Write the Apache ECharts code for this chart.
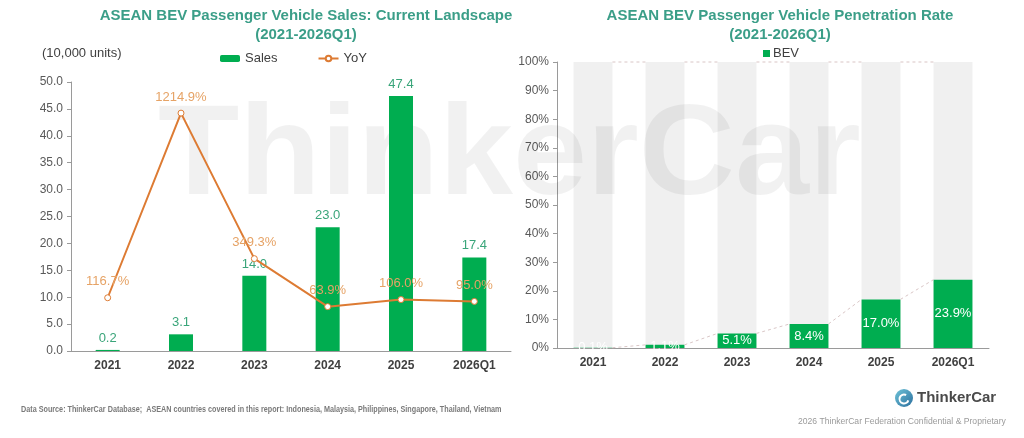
<!DOCTYPE html>
<html lang="en">
<head>
    <meta charset="UTF-8">
    <title>ASEAN BEV Passenger Vehicle</title>
    <script src="https://cdn.jsdelivr.net/npm/echarts@6.0.0/dist/echarts.min.js"></script>
    <style>
        html, body { margin: 0; padding: 0; background: #fff; }
        #chart { width: 1024px; height: 438px; }
    </style>
</head>
<body>
<div id="chart"></div>
<script>
    // chart data
    const categories = ['2021', '2022', '2023', '2024', '2025', '2026Q1'];
    const salesValues = [0.2, 3.1, 14.0, 23.0, 47.4, 17.4];     // 10,000 units
    const yoyValues = [116.7, 1214.9, 349.3, 63.9, 106.0, 95.0]; // %
    const bevShare = [0.1, 1.1, 5.1, 8.4, 17.0, 23.9];           // % penetration

    const FONT = 'Liberation Sans, Arial, sans-serif';
    const GREEN = '#00ad50';
    const ORANGE = '#dd7b33';

    // pairs for the dashed "series lines" between neighbouring bars
    const linkData = bevShare.slice(0, -1).map((v, i) => [i, v, bevShare[i + 1]]);

    const myChart = echarts.init(document.getElementById('chart'));

    const option = {
        animation: false,
        textStyle: { fontFamily: FONT },
        title: [
            {
                text: 'ASEAN BEV Passenger Vehicle Sales: Current Landscape\n(2021-2026Q1)',
                left: 301, top: 1, textAlign: 'center',
                textStyle: { color: '#3b9e88', fontSize: 15, fontWeight: 'bold', lineHeight: 19, fontFamily: FONT }
            },
            {
                text: 'ASEAN BEV Passenger Vehicle Penetration Rate\n(2021-2026Q1)',
                left: 775, top: 1, textAlign: 'center',
                textStyle: { color: '#3b9e88', fontSize: 15, fontWeight: 'bold', lineHeight: 19, fontFamily: FONT }
            }
        ],
        legend: [
            {
                data: ['Sales', 'YoY'],
                left: 215, top: 47,
                itemWidth: 20, itemHeight: 7, itemGap: 40,
                textStyle: { color: '#404040', fontSize: 13, fontFamily: FONT }
            },
            {
                data: [{ name: 'BEV', icon: 'rect' }],
                left: 758, top: 42,
                itemWidth: 7, itemHeight: 7, itemGap: 4,
                textStyle: { color: '#404040', fontSize: 13, fontFamily: FONT, padding: [0, 0, 0, -2] }
            }
        ],
        grid: [
            { left: 71, top: 82, width: 440, height: 269 },
            { left: 557, top: 62, width: 432, height: 286 }
        ],
        xAxis: [
            {
                gridIndex: 0, type: 'category', data: categories,
                axisLine: { lineStyle: { color: '#9a9a9a' } },
                axisTick: { show: false },
                axisLabel: { color: '#404040', fontSize: 12, fontWeight: 'bold', margin: 9 }
            },
            {
                gridIndex: 1, type: 'category', data: categories,
                axisLine: { lineStyle: { color: '#9a9a9a' } },
                axisTick: { show: false },
                axisLabel: { color: '#404040', fontSize: 12, fontWeight: 'bold', margin: 9 }
            }
        ],
        yAxis: [
            {
                gridIndex: 0, type: 'value', min: 0, max: 50, interval: 5,
                axisLine: { show: true, lineStyle: { color: '#9a9a9a' } },
                axisTick: { show: true, length: 4 },
                splitLine: { show: false },
                axisLabel: { color: '#595959', fontSize: 12, formatter: v => v.toFixed(1) }
            },
            {
                gridIndex: 0, type: 'value', min: -200, max: 1400, show: false,
                splitLine: { show: false }
            },
            {
                gridIndex: 1, type: 'value', min: 0, max: 100, interval: 10,
                axisLine: { show: true, lineStyle: { color: '#9a9a9a' } },
                axisTick: { show: true, length: 4 },
                splitLine: { show: false },
                axisLabel: { color: '#595959', fontSize: 12, formatter: '{value}%' }
            }
        ],
        graphic: [
            {
                type: 'text', left: 42, top: 47, z: 5,
                style: { text: '(10,000 units)', fill: '#404040', font: '13px ' + FONT }
            },
            {
                type: 'text', x: 158, y: 159, z: 2, scaleX: 1.04,
                style: {
                    text: 'ThinkerCar', fill: 'rgba(0,0,0,0.055)',
                    font: 'bold 128px ' + FONT, verticalAlign: 'middle'
                }
            },
            {
                type: 'text', x: 21, y: 404, z: 5, scaleX: 0.76,
                style: {
                    text: 'Data Source: ThinkerCar Database;  ASEAN countries covered in this report: Indonesia, Malaysia, Philippines, Singapore, Thailand, Vietnam',
                    fill: '#7a7a7a', font: 'bold 9.5px ' + FONT
                }
            },
            {
                type: 'circle', z: 5, shape: { cx: 904, cy: 398, r: 9 },
                style: {
                    fill: new echarts.graphic.LinearGradient(0, 0, 1, 1, [
                        { offset: 0, color: '#6fc3d8' }, { offset: 1, color: '#2b6f9e' }
                    ])
                }
            },
            {
                type: 'arc', z: 6, shape: { cx: 904, cy: 399, r: 4.5, startAngle: 0.3, endAngle: 5.2 },
                style: { stroke: '#fff', lineWidth: 2, fill: null }
            },
            {
                type: 'text', left: 917, top: 390, z: 5,
                style: { text: 'ThinkerCar', fill: '#4a4a4a', font: 'bold 15px ' + FONT }
            },
            {
                type: 'text', left: 798, top: 417, z: 5,
                style: { text: '2026 ThinkerCar Federation Confidential & Proprietary', fill: '#9a9a9a', font: '8.6px ' + FONT }
            }
        ],
        series: [
            {
                name: 'Sales', type: 'bar', xAxisIndex: 0, yAxisIndex: 0, z: 3,
                data: salesValues, barWidth: 24,
                itemStyle: { color: GREEN },
                label: { show: true, position: 'top', color: '#3aa57a', fontSize: 13, formatter: p => p.value.toFixed(1) }
            },
            {
                name: 'YoY', type: 'line', xAxisIndex: 0, yAxisIndex: 1, z: 4,
                data: yoyValues,
                lineStyle: { color: ORANGE, width: 2 },
                itemStyle: { color: '#fff', borderColor: ORANGE, borderWidth: 1 },
                symbol: 'circle', symbolSize: 6,
                label: { show: true, position: 'top', distance: 6, color: '#e6a366', fontSize: 13, formatter: p => p.value.toFixed(1) + '%' }
            },
            {
                name: 'BEV', type: 'bar', xAxisIndex: 1, yAxisIndex: 2, z: 1,
                data: bevShare, barWidth: '54%',
                itemStyle: { color: GREEN },
                showBackground: true,
                backgroundStyle: { color: '#f0f0f0' },
                label: { show: true, position: 'inside', color: '#fff', fontSize: 13, formatter: p => p.value.toFixed(1) + '%' }
            },
            {
                name: 'links', type: 'custom', xAxisIndex: 1, yAxisIndex: 2, z: 4,
                silent: true,
                data: linkData,
                encode: { x: 0, y: 1 },
                renderItem: function (params, api) {
                    const i = api.value(0);
                    const a = api.coord([i, api.value(1)]);
                    const b = api.coord([i + 1, api.value(2)]);
                    const ta = api.coord([i, 100]);
                    const half = api.size([1, 0])[0] * 0.27;
                    const dash = { stroke: '#d9c6c6', lineWidth: 1, lineDash: [3, 3] };
                    return {
                        type: 'group',
                        children: [
                            { type: 'line', shape: { x1: a[0] + half, y1: a[1], x2: b[0] - half, y2: b[1] }, style: dash },
                            { type: 'line', shape: { x1: a[0] + half, y1: ta[1], x2: b[0] - half, y2: ta[1] }, style: dash }
                        ]
                    };
                }
            }
        ]
    };

    myChart.setOption(option);
</script>
</body>
</html>
